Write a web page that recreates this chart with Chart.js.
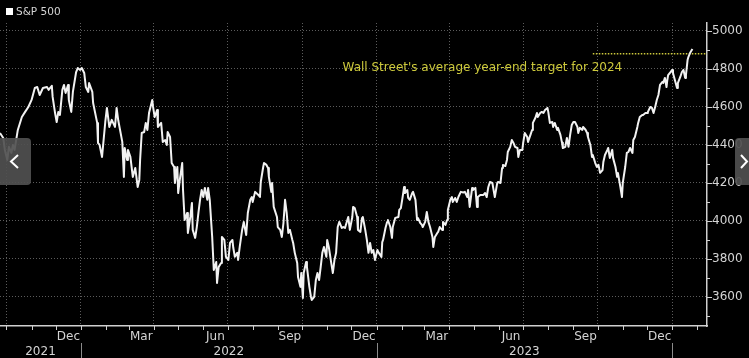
<!DOCTYPE html>
<html lang="en">
<head>
<meta charset="utf-8">
<title>S&amp;P 500</title>
<script src="https://cdn.jsdelivr.net/npm/chart.js@4.4.1/dist/chart.umd.min.js"></script>
<style>
  html, body { margin: 0; padding: 0; background: #000; }
  #wrap { position: relative; width: 749px; height: 358px; overflow: hidden; background: #000; }
  .nav { position: absolute; top: 138px; height: 47px; background: rgba(80, 80, 80, 0.92); }
  .nav.left { left: 0; width: 31px; border-radius: 0 4px 4px 0; }
  .nav.right { left: 735px; width: 20px; border-radius: 4px 0 0 4px; }
  .nav svg { position: absolute; left: 0; top: 0; }
</style>
</head>
<body>
<div id="wrap">
  <canvas id="spxChart" width="749" height="358"></canvas>
  <div class="nav left"><svg width="31" height="47"><polyline points="18,17 11,23.5 18,30" fill="none" stroke="#fff" stroke-width="2"/></svg></div>
  <div class="nav right"><svg width="20" height="47"><polyline points="6,17 12,23.5 6,30" fill="none" stroke="#fff" stroke-width="2"/></svg></div>
</div>
<script>
// S&P 500 closes
const dates = [
  '2021-09-23','2021-09-27','2021-09-29','2021-10-02','2021-10-04','2021-10-07','2021-10-09','2021-10-11','2021-10-15','2021-10-20',
  '2021-10-24','2021-10-28','2021-11-01','2021-11-05','2021-11-08','2021-11-11','2021-11-15','2021-11-20','2021-11-22','2021-11-26',
  '2021-11-27','2021-11-30','2021-12-02','2021-12-04','2021-12-06','2021-12-09','2021-12-11','2021-12-13','2021-12-16','2021-12-17',
  '2021-12-20','2021-12-22','2021-12-26','2021-12-28','2021-12-31','2022-01-02','2022-01-05','2022-01-07','2022-01-10','2022-01-11',
  '2022-01-15','2022-01-16','2022-01-21','2022-01-22','2022-01-24','2022-01-27','2022-01-31','2022-02-02','2022-02-05','2022-02-08',
  '2022-02-12','2022-02-14','2022-02-16','2022-02-21','2022-02-23','2022-02-24','2022-02-27','2022-02-28','2022-03-03','2022-03-06',
  '2022-03-09','2022-03-12','2022-03-14','2022-03-15','2022-03-17','2022-03-20','2022-03-22','2022-03-24','2022-03-26','2022-03-30',
  '2022-03-31','2022-04-02','2022-04-05','2022-04-06','2022-04-10','2022-04-12','2022-04-15','2022-04-17','2022-04-18','2022-04-21',
  '2022-04-23','2022-04-26','2022-04-27','2022-04-30','2022-05-01','2022-05-03','2022-05-06','2022-05-07','2022-05-09','2022-05-12',
  '2022-05-13','2022-05-16','2022-05-18','2022-05-19','2022-05-22','2022-05-24','2022-05-26','2022-05-28','2022-05-30','2022-06-01',
  '2022-06-03','2022-06-06','2022-06-07','2022-06-09','2022-06-12','2022-06-14','2022-06-17','2022-06-18','2022-06-20','2022-06-23',
  '2022-06-24','2022-06-27','2022-06-29','2022-07-02','2022-07-04','2022-07-07','2022-07-08','2022-07-10','2022-07-13','2022-07-14',
  '2022-07-16','2022-07-19','2022-07-21','2022-07-24','2022-07-26','2022-07-29','2022-07-31','2022-08-01','2022-08-04','2022-08-08',
  '2022-08-10','2022-08-11','2022-08-14','2022-08-15','2022-08-18','2022-08-20','2022-08-21','2022-08-24','2022-08-25','2022-08-27',
  '2022-08-31','2022-09-01','2022-09-04','2022-09-06','2022-09-08','2022-09-10','2022-09-12','2022-09-14','2022-09-16','2022-09-19',
  '2022-09-20','2022-09-22','2022-09-25','2022-09-26','2022-09-29','2022-09-30','2022-10-02','2022-10-03','2022-10-06','2022-10-07',
  '2022-10-10','2022-10-12','2022-10-13','2022-10-16','2022-10-18','2022-10-20','2022-10-22','2022-10-24','2022-10-26','2022-10-28',
  '2022-10-31','2022-11-01','2022-11-03','2022-11-06','2022-11-08','2022-11-10','2022-11-12','2022-11-14','2022-11-16','2022-11-19',
  '2022-11-21','2022-11-23','2022-11-27','2022-11-29','2022-12-02','2022-12-03','2022-12-05','2022-12-08','2022-12-09','2022-12-12',
  '2022-12-14','2022-12-15','2022-12-18','2022-12-20','2022-12-22','2022-12-24','2022-12-26','2022-12-28','2022-12-30','2023-01-02',
  '2023-01-03','2023-01-07','2023-01-08','2023-01-09','2023-01-12','2023-01-14','2023-01-15','2023-01-18','2023-01-20','2023-01-21',
  '2023-01-24','2023-01-28','2023-01-29','2023-01-31','2023-02-02','2023-02-04','2023-02-05','2023-02-08','2023-02-09','2023-02-11',
  '2023-02-14','2023-02-15','2023-02-18','2023-02-20','2023-02-21','2023-02-24','2023-02-26','2023-02-27','2023-03-02','2023-03-04',
  '2023-03-06','2023-03-08','2023-03-11','2023-03-12','2023-03-14','2023-03-17','2023-03-18','2023-03-20','2023-03-23','2023-03-24',
  '2023-03-27','2023-03-29','2023-03-30','2023-04-02','2023-04-04','2023-04-05','2023-04-08','2023-04-10','2023-04-12','2023-04-15',
  '2023-04-18','2023-04-20','2023-04-23','2023-04-24','2023-04-26','2023-04-29','2023-04-30','2023-05-03','2023-05-05','2023-05-06',
  '2023-05-09','2023-05-11','2023-05-13','2023-05-15','2023-05-17','2023-05-19','2023-05-21','2023-05-24','2023-05-25','2023-05-27',
  '2023-05-30','2023-05-31','2023-06-03','2023-06-05','2023-06-06','2023-06-09','2023-06-11','2023-06-12','2023-06-15','2023-06-17',
  '2023-06-19','2023-06-21','2023-06-24','2023-06-25','2023-06-27','2023-06-30','2023-07-01','2023-07-03','2023-07-06','2023-07-07',
  '2023-07-10','2023-07-12','2023-07-13','2023-07-16','2023-07-18','2023-07-19','2023-07-22','2023-07-24','2023-07-26','2023-07-28',
  '2023-07-31','2023-08-01','2023-08-03','2023-08-06','2023-08-07','2023-08-09','2023-08-12','2023-08-13','2023-08-16','2023-08-18',
  '2023-08-19','2023-08-22','2023-08-24','2023-08-26','2023-08-28','2023-08-30','2023-09-01','2023-09-03','2023-09-06','2023-09-07',
  '2023-09-09','2023-09-12','2023-09-13','2023-09-16','2023-09-18','2023-09-19','2023-09-22','2023-09-24','2023-09-25','2023-09-28',
  '2023-09-30','2023-10-02','2023-10-04','2023-10-07','2023-10-08','2023-10-10','2023-10-13','2023-10-14','2023-10-16','2023-10-19',
  '2023-10-20','2023-10-23','2023-10-25','2023-10-26','2023-10-29','2023-10-31','2023-11-01','2023-11-04','2023-11-06','2023-11-08',
  '2023-11-10','2023-11-13','2023-11-14','2023-11-16','2023-11-19','2023-11-20','2023-11-22','2023-11-25','2023-11-26','2023-11-29',
  '2023-12-01','2023-12-02','2023-12-05','2023-12-07','2023-12-09','2023-12-11','2023-12-13','2023-12-15','2023-12-17','2023-12-20',
  '2023-12-21','2023-12-23','2023-12-25','2023-12-26','2023-12-27','2023-12-30','2024-01-01','2024-01-02','2024-01-05','2024-01-07',
  '2024-01-08','2024-01-11','2024-01-13','2024-01-15','2024-01-17','2024-01-18','2024-01-20','2024-01-21','2024-01-23','2024-01-26'
];
const closes = [
  4463,4437,4374,4321,4390,4358,4400,4374,4479,4547,
  4574,4600,4637,4700,4705,4663,4700,4705,4690,4711,
  4653,4568,4521,4574,4558,4690,4716,4674,4716,4637,
  4574,4679,4784,4805,4795,4805,4779,4705,4679,4726,
  4679,4621,4516,4411,4400,4337,4521,4595,4495,4532,
  4495,4595,4530,4416,4232,4384,4321,4374,4337,4232,
  4279,4179,4216,4321,4463,4468,4516,4479,4568,4637,
  4600,4547,4584,4495,4516,4416,4426,4400,4468,4442,
  4305,4284,4200,4284,4147,4216,4305,4163,4005,4042,
  3937,4021,4095,3953,3911,3968,4042,4111,4163,4126,
  4174,4111,4174,4111,3916,3742,3784,3674,3758,3779,
  3916,3900,3811,3795,3884,3900,3860,3811,3832,3795,
  3863,3953,3995,3926,4042,4111,4126,4100,4153,4137,
  4126,4205,4284,4305,4295,4279,4232,4153,4200,4074,
  4021,3968,3953,3916,3989,4111,4042,3937,3953,3900,
  3884,3832,3779,3705,3653,3726,3595,3726,3784,3758,
  3653,3600,3584,3600,3689,3726,3689,3758,3832,3863,
  3811,3900,3863,3779,3726,3795,3832,3968,3995,3963,
  3968,3963,4021,3953,4021,4074,4068,4021,3953,3942,
  4016,4021,3953,3900,3832,3884,3832,3847,3795,3847,
  3837,3811,3889,3900,3963,3995,4005,3968,3911,3968,
  4016,4021,4058,4068,4121,4179,4147,4163,4121,4111,
  4147,4153,4111,4005,4016,3989,3979,3968,3995,4047,
  3995,3968,3916,3863,3916,3937,3942,3968,3953,3995,
  3979,4005,4058,4111,4126,4100,4121,4100,4126,4153,
  4150,4153,4126,4163,4074,4174,4163,4174,4074,4126,
  4137,4137,4137,4147,4126,4179,4205,4200,4174,4126,
  4200,4205,4200,4279,4295,4289,4321,4363,4390,4426,
  4411,4390,4384,4337,4374,4374,4411,4463,4442,4416,
  4453,4479,4516,4542,4568,4547,4568,4574,4568,4584,
  4595,4574,4516,4521,4495,4516,4479,4490,4453,4411,
  4384,4390,4437,4390,4453,4505,4521,4521,4495,4463,
  4490,4479,4495,4480,4463,4442,4400,4337,4347,4305,
  4284,4295,4253,4268,4310,4347,4374,4384,4332,4374,
  4332,4284,4232,4253,4179,4126,4200,4284,4358,4363,
  4384,4358,4426,4442,4495,4516,4547,4558,4558,4568,
  4568,4574,4600,4595,4568,4600,4637,4663,4716,4732,
  4726,4753,4705,4742,4768,4784,4795,4779,4732,4700,
  4726,4758,4784,4795,4753,4768,4847,4863,4884,4905
];

// year-end 2024 target (dotted line) and its note
const targetDates = ['2023-09-25', '2024-02-13'];
const targetValues = [4880, 4880];
const noteText = "Wall Street's average year-end target for 2024";
const noteDate = '2022-11-20';
const noteLevel = 4805;

// axes
const xStart = '2021-09-23';
const xEnd = '2024-02-13';
const yMin = 3447;
const yMax = 5042;
const yLabelValues = [3600, 3800, 4000, 4200, 4400, 4600, 4800, 5000];
const yMinorValues = [3500, 3700, 3900, 4100, 4300, 4500, 4700, 4900];
const monthLabels = ['Dec', 'Mar', 'Jun', 'Sep', 'Dec', 'Mar', 'Jun', 'Sep', 'Dec'];
const monthLabelKeys = ['2021-12', '2022-03', '2022-06', '2022-09', '2022-12', '2023-03', '2023-06', '2023-09', '2023-12'];
const yearLabels = ['2021', '2022', '2023'];

const FONT = '"DejaVu Sans", "Liberation Sans", sans-serif';
const axisColor = '#cfcfcf';
const labelColor = '#d4d4d4';
const gridColor = '#5c5c5c';
const yellow = '#cdc93c';

const DAY = 86400000;
const toDay = (s) => Date.parse(s) / DAY;
const monthStart = (y, m) => Date.UTC(y, m, 1) / DAY;

function monthTicks(min, max) {
  const out = [];
  const d = new Date(min * DAY);
  let y = d.getUTCFullYear();
  let m = d.getUTCMonth() + 1;
  while (monthStart(y, m) <= max) {
    out.push({ value: monthStart(y, m) });
    m++;
    if (m > 11) { m = 0; y++; }
  }
  return out;
}

function isQuarterStart(v) {
  return new Date(v * DAY).getUTCMonth() % 3 === 0;
}

const decor = {
  id: 'decor',
  afterDraw(chart) {
    const { ctx, chartArea: area, scales: { x, y } } = chart;
    ctx.save();

    // tick marks on both axes
    ctx.strokeStyle = axisColor;
    ctx.lineWidth = 1;
    y.ticks.forEach((t) => {
      const py = Math.round(y.getPixelForValue(t.value)) + 0.5;
      const len = yLabelValues.includes(t.value) ? 5 : 3;
      ctx.beginPath();
      ctx.moveTo(area.right, py);
      ctx.lineTo(area.right + len, py);
      ctx.stroke();
    });
    x.ticks.forEach((t) => {
      const px = Math.round(x.getPixelForValue(t.value)) + 0.5;
      ctx.beginPath();
      ctx.moveTo(px, area.bottom);
      ctx.lineTo(px, area.bottom + 4);
      ctx.stroke();
    });

    // month names, centred in their month
    ctx.fillStyle = labelColor;
    ctx.font = '12px ' + FONT;
    ctx.textAlign = 'center';
    ctx.textBaseline = 'middle';
    monthLabelKeys.forEach((key, i) => {
      const [yy, mm] = key.split('-').map(Number);
      const mid = (monthStart(yy, mm - 1) + monthStart(yy, mm)) / 2;
      ctx.fillText(monthLabels[i], x.getPixelForValue(mid), area.bottom + 11);
    });

    // years, centred in the visible part of the year, with separators
    yearLabels.forEach((yr) => {
      const n = Number(yr);
      const from = Math.max(monthStart(n, 0), x.min);
      const to = Math.min(monthStart(n + 1, 0), x.max);
      ctx.fillText(yr, x.getPixelForValue((from + to) / 2), area.bottom + 26);
    });
    ctx.strokeStyle = '#8a8a8a';
    [2022, 2023, 2024].forEach((n) => {
      const px = Math.round(x.getPixelForValue(monthStart(n, 0))) + 0.5;
      ctx.beginPath();
      ctx.moveTo(px, area.bottom + 17);
      ctx.lineTo(px, chart.height);
      ctx.stroke();
    });

    // note for the target line
    ctx.fillStyle = yellow;
    ctx.textAlign = 'left';
    ctx.fillText(noteText, x.getPixelForValue(toDay(noteDate)), y.getPixelForValue(noteLevel));

    // legend
    ctx.fillStyle = '#ffffff';
    ctx.fillRect(6, 8, 7, 7);
    ctx.fillStyle = labelColor;
    ctx.font = '10.5px ' + FONT;
    ctx.fillText(chart.data.datasets[0].label, 16, 12);

    ctx.restore();
  }
};

new Chart(document.getElementById('spxChart'), {
  type: 'line',
  data: {
    datasets: [
      {
        label: 'S&P 500',
        data: dates.map((d, i) => ({ x: toDay(d), y: closes[i] })),
        borderColor: '#f2f2f2',
        borderWidth: 2,
        pointRadius: 0,
        tension: 0,
        borderJoinStyle: 'round',
      },
      {
        label: 'Target',
        data: targetDates.map((d, i) => ({ x: toDay(d), y: targetValues[i] })),
        borderColor: yellow,
        borderWidth: 1.5,
        borderDash: [1.5, 1.5],
        pointRadius: 0,
      },
    ],
  },
  options: {
    responsive: false,
    animation: false,
    layout: { padding: { top: 23, left: 0, right: 0, bottom: 0 } },
    plugins: { legend: { display: false }, tooltip: { enabled: false } },
    scales: {
      x: {
        type: 'linear',
        min: toDay(xStart),
        max: toDay(xEnd),
        afterBuildTicks: (s) => { s.ticks = monthTicks(s.min, s.max); },
        afterFit: (s) => { s.height = 32; },
        ticks: { display: false },
        grid: {
          drawTicks: false,
          color: (c) => (c.tick && isQuarterStart(c.tick.value) ? gridColor : 'rgba(0,0,0,0)'),
        },
        border: { display: true, color: axisColor, width: 1.5, dash: [1, 2] },
      },
      y: {
        position: 'right',
        min: yMin,
        max: yMax,
        afterBuildTicks: (s) => {
          s.ticks = yMinorValues.concat(yLabelValues).sort((a, b) => a - b).map((value) => ({ value }));
        },
        afterFit: (s) => { s.width = 42; },
        ticks: {
          autoSkip: false,
          padding: 5,
          color: labelColor,
          font: { family: FONT, size: 12 },
          callback: (v) => (yLabelValues.includes(v) ? String(v) : ''),
        },
        grid: {
          drawTicks: false,
          color: (c) => (c.tick && yLabelValues.includes(c.tick.value) ? gridColor : 'rgba(0,0,0,0)'),
        },
        border: { display: true, color: axisColor, width: 1.5, dash: [1, 2] },
      },
    },
  },
  plugins: [decor],
});
</script>
</body>
</html>
